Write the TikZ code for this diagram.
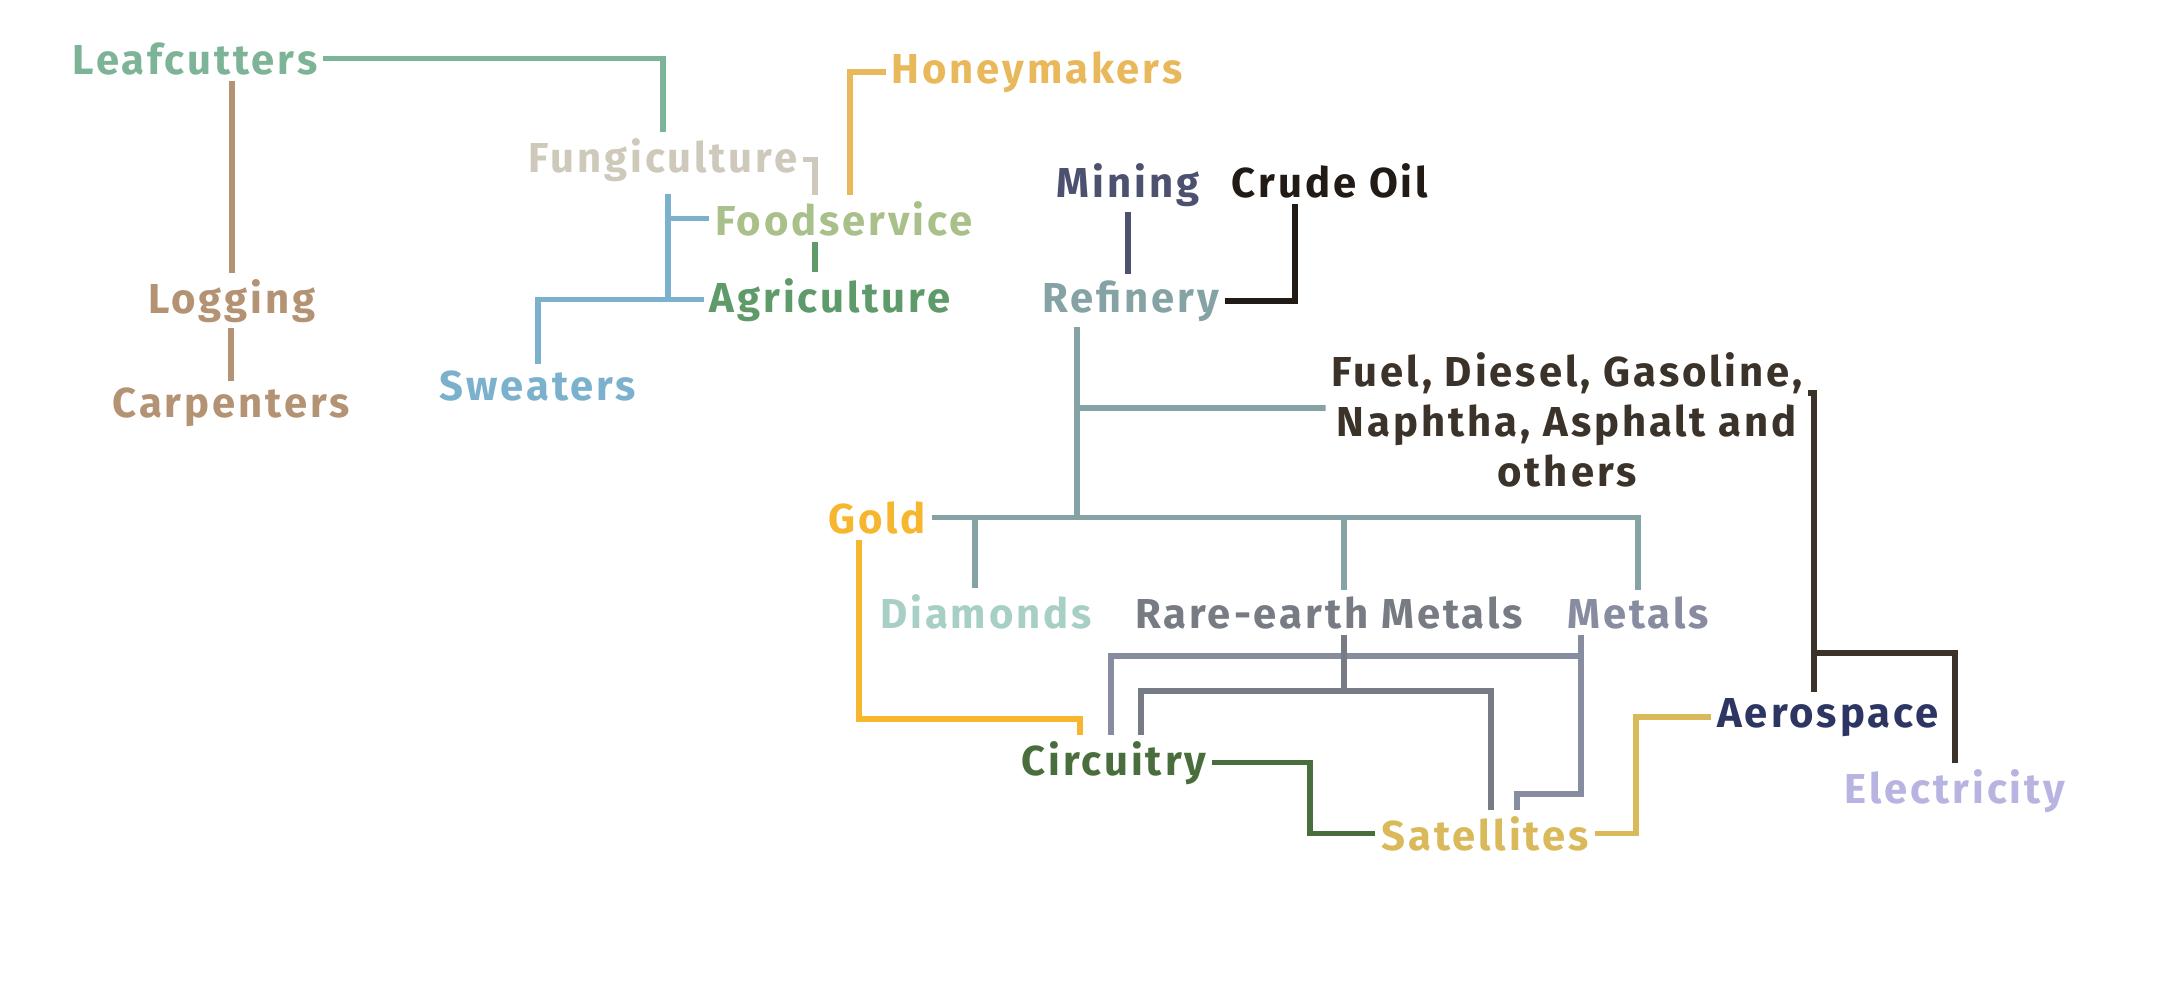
\documentclass[tikz,border=0pt]{standalone}
\usepackage{fontspec}
\setmainfont{Fira Sans}[LetterSpace=7]
\usepackage{tikz}
\definecolor{leafc}{HTML}{7DB497}
\definecolor{logc}{HTML}{B39373}
\definecolor{fungic}{HTML}{CFC9BC}
\definecolor{honeyc}{HTML}{E8B85A}
\definecolor{foodc}{HTML}{A9C08A}
\definecolor{agric}{HTML}{5F9A6B}
\definecolor{sweatc}{HTML}{7CB1CD}
\definecolor{miningc}{HTML}{4C5170}
\definecolor{crudec}{HTML}{221A14}
\definecolor{refc}{HTML}{85A2A4}
\definecolor{fuelc}{HTML}{3B3229}
\definecolor{goldc}{HTML}{F6B62E}
\definecolor{diamc}{HTML}{A8CFC5}
\definecolor{rarec}{HTML}{767B84}
\definecolor{metc}{HTML}{878CA0}
\definecolor{circc}{HTML}{4A6D3D}
\definecolor{satc}{HTML}{DAB95A}
\definecolor{aeroc}{HTML}{2D3662}
\definecolor{elecc}{HTML}{B7B4E2}
\tikzset{
  x=0.01cm, y=-0.01cm,
  item/.style={anchor=base, inner sep=1.5pt, font=\fontsize{11.9}{14.2}\selectfont\bfseries},
  link/.style={line width=1.6pt},
}

\begin{document}
\begin{tikzpicture}
      \useasboundingbox (0,0) rectangle (2160,1000);

      \node[item,text=leafc] (leaf) at (195,74) {Leafcutters};
      \node[item,text=fungic] (fungi) at (663,172) {Fungiculture};
      \node[item,text=honeyc] (honey) at (1037,83) {Honeymakers};
      \node[item,text=foodc] (food) at (844,235) {Foodservice};
      \node[item,text=agric] (agri) at (830,312) {Agriculture};
      \node[item,text=logc] (logging) at (232,313) {Logging};
      \node[item,text=logc] (carp) at (231,417) {Carpenters};
      \node[item,text=sweatc] (sweat) at (538,400) {Sweaters};
      \node[item,text=miningc] (mining) at (1128,197) {Mining};
      \node[item,text=crudec] (crude) at (1330,197) {Crude Oil};
      \node[item,text=refc] (refin) at (1131,312) {Refinery};
      \node[item,text=fuelc,anchor=center,align=center] (fuel) at (1567,420)
            {Fuel, Diesel, Gasoline,\\Naphtha, Asphalt and\\others};
      \node[item,text=goldc] (gold) at (877,533) {Gold};
      \node[item,text=diamc] (diam) at (986,628) {Diamonds};
      \node[item,text=rarec] (rare) at (1329,628) {Rare-earth Metals};
      \node[item,text=metc] (metals) at (1638,628) {Metals};
      \node[item,text=circc] (circ) at (1114,775) {Circuitry};
      \node[item,text=satc] (sat) at (1485,850) {Satellites};
      \node[item,text=aeroc] (aero) at (1828,727) {Aerospace};
      \node[item,text=elecc] (elec) at (1955,803) {Electricity};

      \coordinate (foodx) at (815,0);
      \coordinate (bluetop) at (668,194);
      \coordinate (crudex) at (1295,0);
      \coordinate (refx) at (1077,0);
      \coordinate (fuelfork) at (0,653);
      \coordinate (aerox) at ([xshift=-0.14cm]aero.north);
      \coordinate (circbend) at (1310,800);
      \coordinate (satbend) at (1636,780);

      % ants, wood and food
      \draw[link,leafc] (leaf.east) -| (fungi.north);
      \draw[link,logc] (logging.north) -- (logging.north |- leaf.south);
      \draw[link,logc] (carp.north) -- (carp.north |- logging.south);
      \draw[link,fungic] (fungi.east) -| (foodx |- food.north);
      \draw[link,honeyc] (honey.west) -| ([xshift=0.06cm]food.north);
      \draw[link,agric] (foodx |- food.south) -- (foodx |- agri.north);
      \draw[link,sweatc] (bluetop) |- (agri.west);
      \draw[link,sweatc] (food.west) -- (food.west -| bluetop);
      \draw[link,sweatc] (agri.west -| bluetop) -| (sweat.north);

      % oil and minerals
      \draw[link,miningc] (mining.south) -- (mining.south |- refin.north);
      \draw[link,crudec] (refin.east) -| (crudex |- crude.south);
      \draw[link,refc] (refx |- refin.south) -- (refx |- gold.east);
      \draw[link,refc] (refx |- fuel.west) ++(0,-12) -- ([yshift=0.12cm]fuel.west);
      \draw[link,refc] (gold.east) -| (metals.north);
      \draw[link,refc] ([xshift=-0.11cm]diam.north) -- ([xshift=-0.11cm]diam.north |- gold.east);
      \draw[link,refc] ([xshift=0.15cm]rare.north) -- ([xshift=0.15cm]rare.north |- gold.east);
      \draw[link,fuelc] ([yshift=0.27cm]fuel.east) -| (aerox);
      \draw[link,fuelc] (aerox |- fuelfork) -| (elec.north);

      % electronics
      \draw[link,goldc] ([xshift=-0.18cm]gold.south) -- ++(0,179) -| ([xshift=-0.34cm]circ.north);
      \path ([xshift=0.15cm]rare.south) ++(0,56) coordinate (rarefork);
      \draw[link,metc] ([xshift=-0.57cm]metals.south) -- ++(0,159) -| ([xshift=0.32cm]sat.north);
      \draw[link,metc] ([xshift=-0.57cm,yshift=-0.21cm]metals.south) -| ([xshift=-0.03cm]circ.north);
      \draw[link,rarec] ([xshift=0.15cm]rare.south) -- (rarefork);
      \draw[link,rarec] ([xshift=0.27cm]circ.north) |- (rarefork) -| ([xshift=0.06cm]sat.north);
      \draw[link,circc] (circ.east) -| (circbend) |- (sat.west);
      \draw[link,satc] (sat.east) -| (satbend) |- (aero.west);
    \end{tikzpicture}
\end{document}
